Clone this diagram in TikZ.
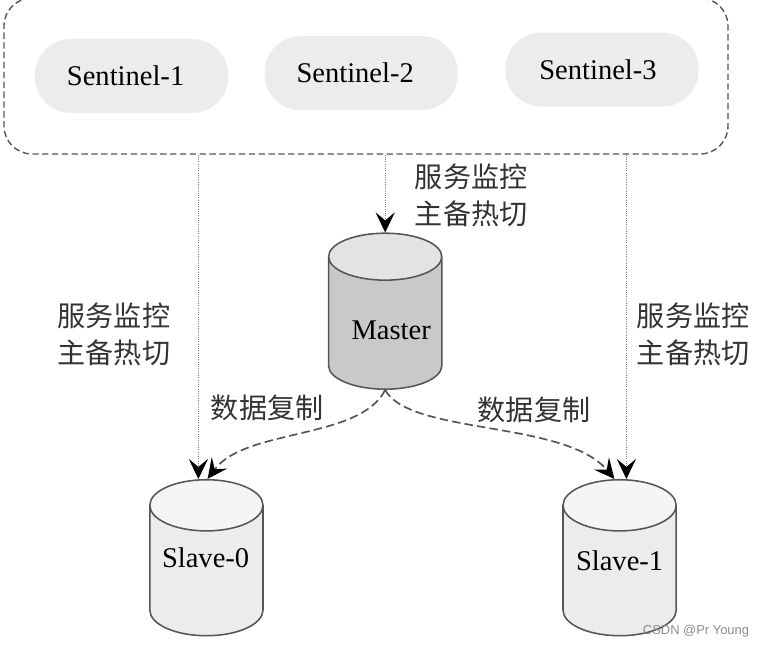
\documentclass[tikz,border=0pt]{standalone}
\usepackage{fontspec}
\setmainfont{Liberation Serif}
\newfontfamily\cjk{Noto Sans CJK SC}
\newfontfamily\wmfont{Liberation Sans}
\usetikzlibrary{arrows.meta,shapes.geometric}
\definecolor{linegray}{HTML}{555555}
\definecolor{softgray}{HTML}{ECECEC}
\tikzset{
  sentinel/.style={fill=softgray, rounded corners=0.9cm, minimum width=4.83cm, minimum height=1.85cm, font=\fontsize{20.3}{24}\selectfont},
  group/.style={draw=linegray, dash pattern=on 4.5pt off 2.5pt, line width=1pt, rounded corners=0.7cm, minimum width=18.1cm, minimum height=3.9cm},
  db/.style={cylinder, shape border rotate=90, aspect=0.53, draw=linegray, line width=1.1pt, cylinder uses custom fill, minimum width=2.83cm, minimum height=3.9cm, font=\fontsize{20.3}{24}\selectfont},
  dbname/.style={font=\fontsize{20.3}{24}\selectfont},
  note/.style={align=center, font=\cjk\fontsize{20}{26}\selectfont, text=black!80},
  ctrl/.style={-{Stealth[length=0.5cm,width=0.48cm,inset=0.2cm,black]}, draw=black!50, line width=0.6pt, densely dotted},
  repl/.style={-{Stealth[length=0.5cm,width=0.48cm,inset=0.2cm,black]}, draw=linegray, line width=1.2pt, dash pattern=on 6pt off 3pt},
}
\begin{document}
\begin{tikzpicture}
\useasboundingbox (0,0) rectangle (19.1,-16.2);
% sentinels
\node[group] (box) at (9.15,-1.9) {};
\node[sentinel] (s1) at (3.29,-1.9) {Sentinel-1\kern0.3cm};
\node[sentinel] (s2) at (9.03,-1.83) {Sentinel-2\kern0.3cm};
\node[sentinel] (s3) at (15.05,-1.74) {Sentinel-3\kern0.2cm};
% databases
\node[db, cylinder body fill=black!21, cylinder end fill=black!11] (master) at (9.63,-8.2) {\phantom{Master}};
\node[db, cylinder body fill=softgray, cylinder end fill=black!4] (slave0) at (5.16,-14.4) {\phantom{Slave-0}};
\node[db, cylinder body fill=softgray, cylinder end fill=black!4] (slave1) at (15.49,-14.4) {\phantom{Slave-1}};
\node[dbname] (mastername) at (9.78,-8.25) {Master};
\node[dbname] (slave0name) at (5.14,-13.95) {Slave-0};
\node[dbname] (slave1name) at (15.49,-14.03) {Slave-1};
% connectors
\draw[ctrl] (box.south -| master.north) -- (master.north);
\draw[ctrl] ([xshift=-0.2cm]slave0.north |- box.south) -- ([xshift=-0.2cm]slave0.north);
\draw[ctrl] ([xshift=0.17cm]slave1.north |- box.south) -- ([xshift=0.17cm]slave1.north);
\draw[repl] (master.south) .. controls (9.0,-11.0) and (6.13,-10.7) .. ([xshift=0.03cm]slave0.north);
\draw[repl] (master.south) .. controls (10.25,-10.88) and (14.13,-10.5) .. ([xshift=-0.13cm]slave1.north);
% labels
\node[note] (n1) at (11.78,-4.88) {服务监控\\主备热切};
\node[note] (n2) at (2.85,-8.36) {服务监控\\主备热切};
\node[note] (n3) at (17.33,-8.36) {服务监控\\主备热切};
\node[note] (n4) at (6.68,-10.2) {数据复制};
\node[note] (n5) at (13.35,-10.25) {数据复制};
\node[text=black!45, font=\wmfont\fontsize{9.2}{11}\selectfont] (mark) at (17.4,-15.78) {CSDN @Pr Young};
\end{tikzpicture}
\end{document}
